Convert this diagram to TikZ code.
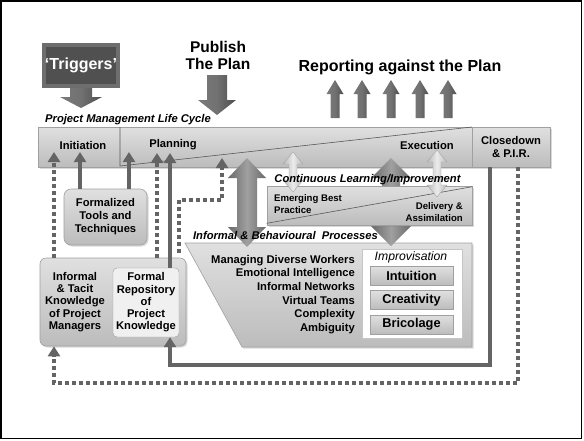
\documentclass[tikz,border=0pt]{standalone}
\usepackage{fontspec}
\setmainfont{Liberation Sans}
\usetikzlibrary{arrows.meta,calc,shadows}
\definecolor{arrA}{RGB}{78,78,78}
\definecolor{arrB}{RGB}{122,122,122}
\definecolor{midA}{RGB}{105,105,105}
\definecolor{midB}{RGB}{160,160,160}
\definecolor{litA}{RGB}{185,185,185}
\definecolor{litB}{RGB}{235,235,235}
\definecolor{barA}{RGB}{224,224,224}
\definecolor{barB}{RGB}{188,188,188}
\definecolor{conn}{RGB}{100,100,100}
\definecolor{trigA}{RGB}{110,110,110}
\definecolor{trigB}{RGB}{80,80,80}
\definecolor{repofill}{RGB}{240,240,240}
\definecolor{edgegray}{RGB}{160,160,160}
\newcommand\blkarrow[7]{%
  \path[#1] ({#2-#5},#4) -- ({#2-#5},{#3+#7}) -- ({#2-#6},{#3+#7}) -- (#2,#3)
    -- ({#2+#6},{#3+#7}) -- ({#2+#5},{#3+#7}) -- ({#2+#5},#4) -- cycle;}
\newcommand\blkdouble[7]{%
  \path[#1] ({#2-#5},{#3+#7}) -- ({#2-#6},{#3+#7}) -- (#2,#3) -- ({#2+#6},{#3+#7})
    -- ({#2+#5},{#3+#7}) -- ({#2+#5},{#4-#7}) -- ({#2+#6},{#4-#7}) -- (#2,#4)
    -- ({#2-#6},{#4-#7}) -- ({#2-#5},{#4-#7}) -- cycle;}
\begin{document}
\begin{tikzpicture}[x=1pt,y=-1pt,
  lbl/.style={font=\bfseries\fontsize{11.2}{13}\selectfont, inner sep=0pt, align=center},
  ttl/.style={font=\bfseries\itshape\fontsize{11.2}{13}\selectfont, inner sep=0pt},
  smalltxt/.style={font=\bfseries\fontsize{9.6}{12}\selectfont, inner sep=0pt},
  gbox/.style={draw=edgegray, line width=0.6pt, top color=barA, bottom color=barB,
    drop shadow={opacity=0.3, shadow xshift=1.5pt, shadow yshift=-1.5pt}},
  btn/.style={draw=edgegray, line width=0.6pt, top color=barA, bottom color=barB,
    minimum width=83pt, minimum height=19pt, inner sep=0pt,
    font=\bfseries\fontsize{12.8}{14}\selectfont},
  conline/.style={draw=conn, line width=4.5pt, -{Triangle[width=12pt,length=10pt]}},
  dotline/.style={draw=conn, line width=4pt, dash pattern=on 4pt off 3pt,
    -{Triangle[width=12pt,length=10pt]}},
  darkarr/.style={left color=arrB, right color=arrA, middle color=arrB!80!arrA},
  midarr/.style={left color=midA, right color=midA, middle color=midB},
  lightarr/.style={left color=litA, right color=litA, middle color=litB, draw=gray!70, line width=0.4pt},
  thinln/.style={draw=black!65, line width=0.6pt}
]
\useasboundingbox (0,0) rectangle (584,440);
\draw[line width=1.5pt] (1,1) rectangle (581.5,438.5);

% Triggers
\path[fill=trigA] (42,43) rectangle (120,88);
\path[fill=trigB] (46,47) rectangle (116,84);
\node[font=\bfseries\fontsize{16}{18}\selectfont, text=white, inner sep=0pt] (trig) at (81,65.5) {‘Triggers’};
\blkarrow{darkarr}{81}{108}{88}{11}{21}{-11}

% Publish
\node[font=\bfseries\fontsize{15.5}{17}\selectfont, align=center, inner sep=0pt] (pub) at (218,55.5) {Publish\\The Plan};
\blkarrow{darkarr}{217}{115}{75}{10}{19}{-15}

% Reporting
\node[font=\bfseries\fontsize{16}{18}\selectfont, inner sep=0pt] (rep) at (400,67) {Reporting against the Plan};
\foreach \xx in {335,362,391,420,448} {\blkarrow{darkarr}{\xx}{80}{118}{4.5}{8.5}{14}}

% Life cycle bar
\node[ttl, anchor=west] (pmlc) at (45,119.5) {Project Management Life Cycle};
\path[gbox] (38,127) rectangle (472,167);
\draw[thinln] (120,127) -- (120,166) -- (472,127);
\node[gbox, minimum width=78pt, minimum height=40pt, inner sep=0pt, lbl] (cd) at (511,147) {Closedown\\\& P.I.R.};
\node[lbl] (init) at (83,145) {Initiation};
\node[lbl] (plan) at (173,145) {Planning};
\node[lbl] (exec) at (427,145) {Execution};

\coordinate (tA) at (54,152);
\coordinate (tB) at (80,152);
\coordinate (tC) at (129,152);
\coordinate (tD) at (157,153);
\coordinate (tE) at (170,153);
\coordinate (tF) at (222,158);
\coordinate (cornS) at (170,365);
\coordinate (cornD) at (54,383);
\coordinate (ipstart) at (179,253);
\coordinate (ipbend) at (222,200);

% trapezoid
\path[gbox] (185,243) -- (472,243) -- (472,347) -- (242,347) -- cycle;

% left boxes
\node[gbox, rounded corners=7pt, minimum width=83pt, minimum height=56pt, lbl] (tools) at (105.5,217) {Formalized\\Tools and\\Techniques};
\node[gbox, rounded corners=6pt, minimum width=146pt, minimum height=88pt] (tacit) at (113,302) {};
\node[lbl, font=\bfseries\fontsize{11.2}{12.2}\selectfont] (tacittxt) at (75,302) {Informal\\\& Tacit\\Knowledge\\of Project\\Managers};
\node[draw=edgegray, fill=repofill, rounded corners=4pt, minimum width=66pt, minimum height=69pt, lbl, font=\bfseries\fontsize{11.2}{12.2}\selectfont] (repo) at (146,302.5) {Formal\\Repository\\of\\Project\\Knowledge};

% connectors
\draw[dotline] ([xshift=-59pt]tacit.north) -- (tA);
\draw[conline] ([xshift=-25.5pt]tools.north) -- (tB);
\draw[conline] ([xshift=23.5pt]tools.north) -- (tC);
\draw[dotline] ([xshift=44pt]tacit.north) -- (tD);
\draw[conline] ([xshift=24pt]repo.north) -- (tE);
\draw[conline] ([xshift=-21pt]cd.south) |- (cornS) -- ([xshift=24pt]repo.south);
\draw[dotline] ([xshift=7pt]cd.south) |- (cornD) -- ([xshift=-59pt]tacit.south);
\draw[dotline] (ipstart) |- (ipbend) -- (tF);

% middle arrows and continuous learning
\blkdouble{midarr}{247}{158}{247}{10}{19}{20}
\blkdouble{midarr}{391}{158}{246}{9}{20}{20}
\node[gbox, minimum width=205pt, minimum height=39pt] (clbox) at (369.5,205.5) {};
\draw[thinln] ([yshift=2pt]clbox.south west) -- ([yshift=-1pt]clbox.north east);
\blkdouble{lightarr}{293}{152}{192}{4}{10}{12}
\blkdouble{lightarr}{437}{150}{197}{4}{10}{12}
\node[ttl] (cltxt) at (367.5,179.5) {Continuous Learning/Improvement};
\node[smalltxt, align=left, anchor=west] (emerg) at (274,204.5) {Emerging Best\\Practice};
\node[smalltxt, align=right, anchor=east] (deliv) at (463,212) {Delivery \&\\Assimilation};

% informal processes
\node[ttl] (ibtxt) at (285.5,235) {Informal \& Behavioural\ \ Processes};
\node[lbl, align=right, anchor=east, font=\bfseries\fontsize{11.2}{13.6}\selectfont] (list) at (355,294.5) {Managing Diverse Workers\\Emotional Intelligence\\Informal Networks\\Virtual Teams\\Complexity\\Ambiguity};
\node[draw=gray!45, fill=white, minimum width=100pt, minimum height=89pt] (impbox) at (412,293.5) {};
\node[font=\itshape\fontsize{12.2}{14}\selectfont, inner sep=0pt] (imptxt) at (411,257) {Improvisation};
\node[btn] (intu) at (411.5,275.5) {Intuition};
\node[btn] (crea) at (411.5,300) {Creativity};
\node[btn] (bric) at (411.5,324.5) {Bricolage};
\end{tikzpicture}
\end{document}
